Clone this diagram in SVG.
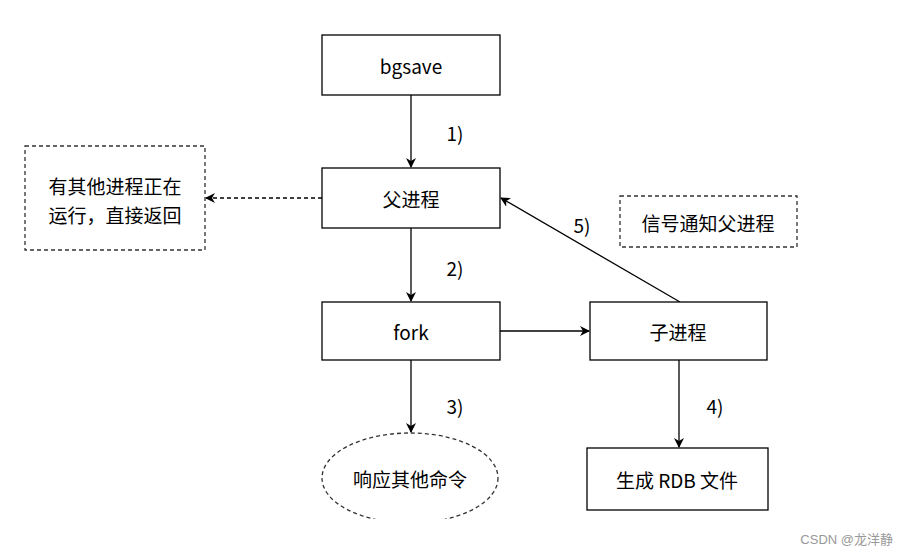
<svg xmlns="http://www.w3.org/2000/svg" width="907" height="560" viewBox="0 0 907 560">
<style>
.b{fill:#fff;stroke:#000;stroke-width:1.3}
.d{fill:none;stroke:#333;stroke-width:1.3;stroke-dasharray:4 3}
.t{font-family:"Noto Sans CJK SC","Liberation Sans",sans-serif;font-size:19px;text-anchor:middle;dominant-baseline:central;fill:#000}
.c{stroke:#000;stroke-width:1.3;fill:none}
</style>
<defs>
<marker id="a" markerWidth="10" markerHeight="10" refX="9" refY="5" orient="auto" markerUnits="userSpaceOnUse"><path d="M0,0L10,5L0,10L3,5z" fill="#000"/></marker>
<clipPath id="cl"><rect x="0" y="0" width="907" height="519"/></clipPath>
</defs>
<rect width="907" height="560" fill="#fff"/>
<g id="edges">
<line class="c" x1="411" y1="95" x2="411" y2="167" marker-end="url(#a)"/>
<line class="c" x1="411" y1="228" x2="411" y2="301" marker-end="url(#a)"/>
<line class="c" x1="411" y1="360" x2="411" y2="432" marker-end="url(#a)"/>
<line class="c" x1="500" y1="331" x2="589" y2="331" marker-end="url(#a)"/>
<line class="c" x1="679" y1="360" x2="679" y2="447" marker-end="url(#a)"/>
<line class="c" x1="680" y1="302" x2="501" y2="198" marker-end="url(#a)"/>
<line class="c" x1="322" y1="198" x2="206" y2="198" stroke-dasharray="4 3" marker-end="url(#a)"/>
<text class="t" x="455" y="132">1)</text>
<text class="t" x="455" y="267">2)</text>
<text class="t" x="455" y="405">3)</text>
<text class="t" x="715" y="405">4)</text>
<text class="t" x="582" y="224">5)</text>
</g>
<g id="bgsave"><rect class="b" x="322" y="35" width="178" height="60"/><text class="t" x="411" y="65">bgsave</text></g>
<g id="parent"><rect class="b" x="322" y="168" width="178" height="60"/><text class="t" x="411" y="198">父进程</text></g>
<g id="fork"><rect class="b" x="322" y="302" width="178" height="58"/><text class="t" x="411" y="331">fork</text></g>
<g id="child"><rect class="b" x="590" y="302" width="177" height="58"/><text class="t" x="678" y="331">子进程</text></g>
<g id="rdb"><rect class="b" x="587" y="448" width="181" height="62"/><text class="t" x="677" y="479">生成 RDB 文件</text></g>
<g id="other"><rect class="d" x="25" y="146" width="180" height="104"/><text class="t" x="115" y="185">有其他进程正在</text><text class="t" x="115" y="214">运行，直接返回</text></g>
<g id="signal"><rect class="d" x="620" y="196" width="177" height="51"/><text class="t" x="708" y="222">信号通知父进程</text></g>
<g id="respond" clip-path="url(#cl)"><ellipse class="d" cx="410" cy="478" rx="88" ry="45"/><text class="t" x="410" y="478">响应其他命令</text></g>
<text x="893" y="544" font-family="Liberation Sans,Noto Sans CJK SC,sans-serif" font-size="13" fill="#999" text-anchor="end">CSDN @龙洋静</text>
</svg>
